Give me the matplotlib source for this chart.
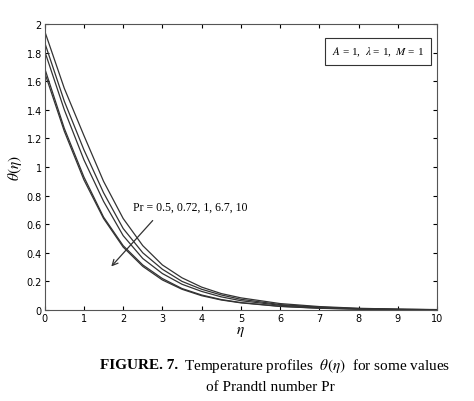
import matplotlib
matplotlib.use("Agg")
import matplotlib.pyplot as plt
plt.rcParams["mathtext.fontset"] = "stix"

eta = [0, 0.5, 1, 1.5, 2, 2.5, 3, 3.5, 4, 4.5, 5, 6, 7, 8, 9, 10]
theta_top = [1.95, 1.55, 1.22, 0.90, 0.64, 0.45, 0.315, 0.225, 0.16, 0.115, 0.085, 0.045, 0.024, 0.012, 0.006, 0.003]
theta_4 = [1.87, 1.46, 1.12, 0.82, 0.57, 0.40, 0.285, 0.20, 0.145, 0.105, 0.075, 0.038, 0.02, 0.01, 0.005, 0.002]
theta_3 = [1.81, 1.40, 1.05, 0.76, 0.52, 0.36, 0.255, 0.18, 0.13, 0.092, 0.065, 0.033, 0.017, 0.008, 0.004, 0.002]
theta_2 = [1.69, 1.27, 0.93, 0.65, 0.45, 0.315, 0.22, 0.15, 0.105, 0.073, 0.052, 0.026, 0.013, 0.006, 0.003, 0.001]
theta_1 = [1.66, 1.25, 0.91, 0.64, 0.44, 0.305, 0.21, 0.145, 0.10, 0.07, 0.05, 0.025, 0.012, 0.006, 0.003, 0.001]
series = [theta_top, theta_4, theta_3, theta_2, theta_1]

fig = plt.figure(figsize=(4.74, 4.02), dpi=100)
ax = fig.add_axes([44.7/474, 1-311/402, (437-44.7)/474, (311-25)/402])
for s in series:
    ax.plot(eta, s, color="#333333", lw=0.9)
ax.set_xlim(0, 10)
ax.set_ylim(0, 2)
ax.set_xticks(range(0, 11))
ax.set_yticks([0, 0.2, 0.4, 0.6, 0.8, 1, 1.2, 1.4, 1.6, 1.8, 2])
ax.set_yticklabels(["0", "0.2", "0.4", "0.6", "0.8", "1", "1.2", "1.4", "1.6", "1.8", "2"])
ax.tick_params(direction="in", top=True, right=True, labelsize=7, length=3, pad=2)
for sp in ax.spines.values():
    sp.set_color("#555555")
ax.set_xlabel(r"$\eta$", fontsize=11, labelpad=0)
ax.set_ylabel(r"$\theta(\eta)$", fontsize=11, labelpad=2)

ax.annotate("", xy=(1.65, 0.29), xytext=(2.8, 0.64),
            arrowprops=dict(arrowstyle="->", color="#333333", lw=0.9))
ax.text(2.25, 0.70, "Pr = 0.5, 0.72, 1, 6.7, 10", family="Liberation Serif", fontsize=8.5)
ax.text(8.5, 1.81, r"$A$ = 1,  $\lambda$ = 1,  $M$ = 1", family="Liberation Serif",
        fontsize=8, ha="center", va="center",
        bbox=dict(boxstyle="square,pad=0.6", fc="white", ec="#333333", lw=0.8))

fig.text(178/474, 1-366/402, "FIGURE. 7.", family="Liberation Serif", fontsize=11,
         weight="bold", ha="right", va="center")
fig.text(184/474, 1-366/402, r"Temperature profiles  $\theta(\eta)$  for some values",
         family="Liberation Serif", fontsize=11, ha="left", va="center")
fig.text(270/474, 1-388/402, "of Prandtl number Pr", family="Liberation Serif",
         fontsize=11, ha="center", va="center")
fig.savefig("out.png", dpi=100)
